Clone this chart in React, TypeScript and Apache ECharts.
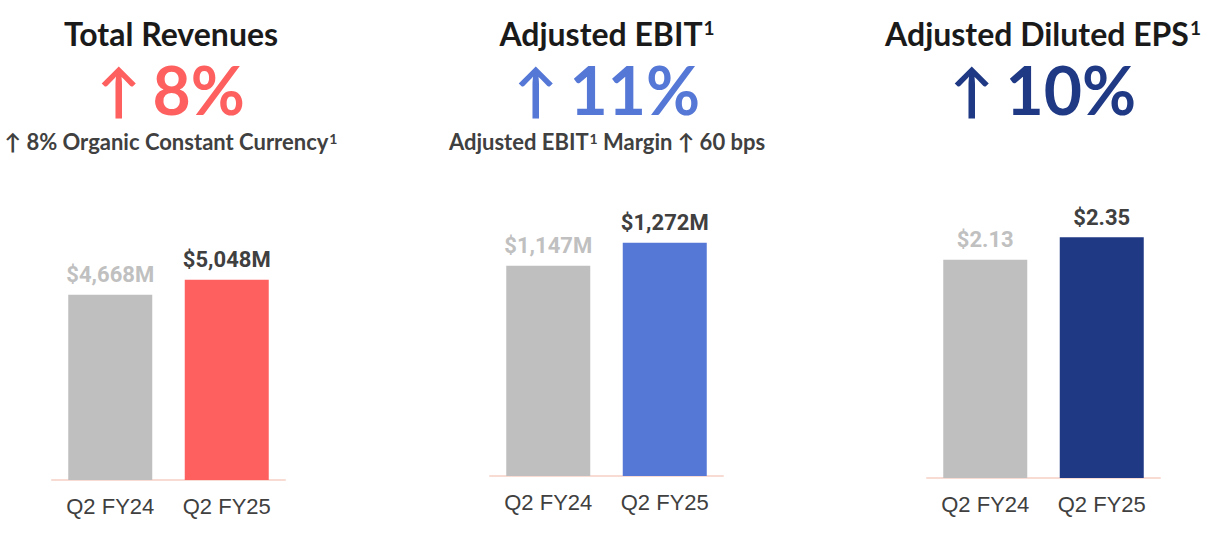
import { useEffect, useRef } from 'react';
import * as echarts from 'echarts';

// chart values
const categories = ['Q2 FY24', 'Q2 FY25'];
const revenues = [4668, 5048];
const ebit = [1147, 1272];
const eps = [2.13, 2.35];

const titles = ['Total Revenues', 'Adjusted EBIT{sup|1}', 'Adjusted Diluted EPS{sup|1}'];
const growth = ['8%', '11%', '10%'];
const subtitles = ['↑ 8% Organic Constant Currency{sup|1}', 'Adjusted EBIT{sup|1} Margin ↑ 60 bps', ''];

const accent = ['#fe5f5f', '#5577d6', '#1f3985'];
const GRAY = '#bfbfbf';

// layout of the three panels
const textX = [171, 607, 1043];
const gridLeft = [52, 490, 927];
const gridTop = [242, 201, 191];
const gridBottom = [54, 58, 56];
const axisMax = [6000, 1500, 2.8];

const fmtMillions = (v: number) => '$' + v.toLocaleString('en-US') + 'M';
const fmtDollars = (v: number) => '$' + v.toFixed(2);

export default function App() {
  const chartRef = useRef<HTMLDivElement>(null);

  useEffect(() => {
    if (!chartRef.current) {
      return;
    }
    const chart = echarts.init(chartRef.current, undefined, { renderer: 'svg' });

    const seriesData = [revenues, ebit, eps];
    const formatters = [fmtMillions, fmtMillions, fmtDollars];

    const supStyle = (size: number, color: string) => ({
      fontSize: size,
      fontWeight: 'bold' as const,
      fontFamily: 'Lato',
      fill: color,
      verticalAlign: 'top' as const,
      padding: [1, 0, 0, 1],
    });

    const graphics: any[] = [];
    for (let i = 0; i < 3; i++) {
      graphics.push({
        type: 'text',
        x: textX[i],
        y: 33,
        style: {
          text: titles[i],
          align: 'center',
          verticalAlign: 'middle',
          fontFamily: 'Lato',
          fontWeight: 'bold',
          fontSize: 32,
          fill: '#1a1a1a',
          rich: { sup: supStyle(19, '#1a1a1a') },
        },
      });
      graphics.push({
        type: 'text',
        x: textX[i],
        y: 89,
        style: {
          text: `{arr|↑}{num|${growth[i]}}`,
          align: 'center',
          verticalAlign: 'middle',
          rich: {
            arr: {
              fontFamily: 'Lato, DejaVu Sans',
              fontWeight: 'bold',
              fontSize: 58,
              fill: accent[i],
              padding: [0, 12, 0, 0],
            },
            num: {
              fontFamily: 'Lato',
              fontWeight: 'bold',
              fontSize: 66,
              fill: accent[i],
            },
          },
        },
      });
      if (subtitles[i]) {
        graphics.push({
          type: 'text',
          x: textX[i],
          y: 141,
          style: {
            text: subtitles[i],
            align: 'center',
            verticalAlign: 'middle',
            fontFamily: 'Lato',
            fontWeight: 'bold',
            fontSize: 22,
            fill: '#404040',
            rich: { sup: supStyle(14, '#404040') },
          },
        });
      }
    }

    const option: echarts.EChartsOption = {
      animation: false,
      backgroundColor: '#ffffff',
      grid: [0, 1, 2].map((i) => ({
        left: gridLeft[i],
        width: 233,
        top: gridTop[i],
        bottom: gridBottom[i],
      })),
      xAxis: [0, 1, 2].map((i) => ({
        type: 'category',
        gridIndex: i,
        data: categories,
        axisLine: { lineStyle: { color: '#f8dcd3', width: 2 } },
        axisTick: { show: false },
        axisLabel: {
          fontFamily: 'Liberation Sans',
          fontSize: 22,
          color: '#404040',
          margin: 15,
        },
      })),
      yAxis: [0, 1, 2].map((i) => ({
        type: 'value',
        gridIndex: i,
        min: 0,
        max: axisMax[i],
        show: false,
        splitLine: { show: false },
      })),
      series: [0, 1, 2].map((i) => ({
        type: 'bar',
        xAxisIndex: i,
        yAxisIndex: i,
        barWidth: 84,
        data: seriesData[i].map((v, j) => ({
          value: v,
          itemStyle: { color: j === 0 ? GRAY : accent[i] },
          label: { color: j === 0 ? '#c0c0c0' : '#404040' },
        })),
        label: {
          show: true,
          position: 'top',
          distance: 9,
          fontFamily: 'Roboto',
          fontWeight: 'bold',
          fontSize: 22,
          formatter: (p: any) => formatters[i](p.value),
        },
      })),
      graphic: graphics,
    };

    chart.setOption(option);

    return () => {
      chart.dispose();
    };
  }, []);

  return (
    <div
      ref={chartRef}
      style={{ position: 'absolute', left: 0, top: 0, width: '1211px', height: '534px', background: '#fff' }}
    />
  );
}
